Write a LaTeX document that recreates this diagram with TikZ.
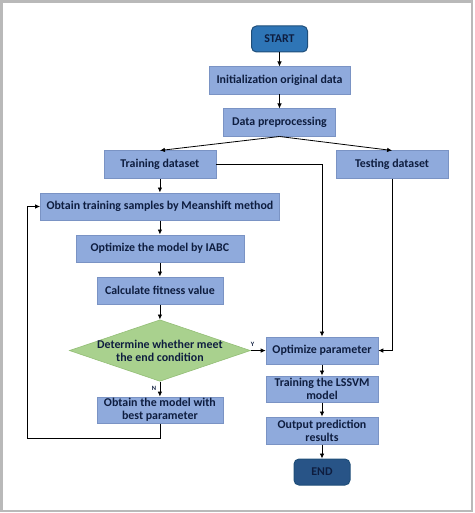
\documentclass[tikz,border=0pt]{standalone}
\usepackage{fontspec}
\setmainfont{Carlito}
\usetikzlibrary{arrows.meta,positioning,shapes.geometric}

\definecolor{boxblue}{HTML}{8FAADC}
\definecolor{boxline}{HTML}{7A93C4}
\definecolor{startblue}{HTML}{2E75B6}
\definecolor{endblue}{HTML}{285487}
\definecolor{darkline}{HTML}{1F4E79}
\definecolor{condgreen}{HTML}{A9D18E}
\definecolor{condline}{HTML}{93BE76}
\definecolor{navytext}{HTML}{0E1D3F}

\begin{document}
\begin{tikzpicture}[>={Latex[length=5pt,width=4.5pt]},
  font=\fontsize{11.9}{13}\selectfont\bfseries,
  box/.style={draw=boxline, fill=boxblue, line width=0.6pt, text=navytext, minimum height=27.4pt, align=center, inner xsep=1pt, inner ysep=0.5pt},
  term/.style={draw=darkline, rounded corners=5pt, line width=1pt, text=navytext, minimum width=56pt, minimum height=26pt},
  decision/.style={diamond, aspect=2.92, draw=condline, fill=condgreen, line width=0.6pt, text=navytext, align=center,
    inner xsep=-12pt, inner ysep=0pt, minimum width=181pt, minimum height=61.5pt},
  flow/.style={->, line width=0.8pt},
  tag/.style={font=\fontsize{6.5}{7}\selectfont\bfseries, text=navytext}]
  \useasboundingbox (0pt,0pt) rectangle (474pt,-513pt);
  \draw[gray!55, line width=2.5pt] (1.5pt,-1.5pt) rectangle (472pt,-511pt);

  % top of the chart
  \node[term, fill=startblue] (start) at (279.5pt,-39pt) {START};
  \node[box, minimum width=141pt, below=14pt of start] (init) {Initialization original data};
  \node[box, minimum width=112pt, below=14pt of init] (prep) {Data preprocessing};
  \node[box, minimum width=112pt, below left=14pt and 7pt of prep] (train) {Training dataset};
  \node[box, minimum width=112pt, below right=14pt and 0pt of prep] (test) {Testing dataset};

  % left column (IABC search)
  \node[box, minimum width=239pt, below=14pt of train] (samples) {Obtain training samples by Meanshift method};
  \node[box, minimum width=168pt, below=14pt of samples] (iabc) {Optimize the model by IABC};
  \node[box, minimum width=126pt, below=14pt of iabc] (fit) {Calculate fitness value};
  \node[decision, below=15pt of fit] (check) {Determine whether meet\\the end condition};
  \node[box, minimum width=126pt, minimum height=26.4pt, below=15pt of check] (best) {Obtain the model with\\best parameter};

  % right column (LSSVM)
  \node[box, minimum width=112pt, right=15pt of check] (param) {Optimize parameter};
  \node[box, minimum width=112pt, minimum height=26.4pt, below=11pt of param] (lssvm) {Training the LSSVM\\model};
  \node[box, minimum width=112pt, below=14pt of lssvm] (output) {Output prediction\\results};
  \node[term, fill=endblue, below=14pt of output] (stop) {END};

  % arrows
  \draw[flow] (start) -- (init);
  \draw[flow] (init) -- (prep);
  \draw[flow] (prep.south) -- (train.north);
  \draw[flow] (prep.south) -- (test.north);
  \draw[flow] (train) -- (samples);
  \draw[flow] (samples) -- (iabc);
  \draw[flow] (iabc) -- (fit);
  \draw[flow] (fit) -- (check);
  \draw[flow] (check) -- node[tag, pos=0.12, above] {Y} (param);
  \draw[flow] (check) -- node[tag, left, pos=0.45] {N} (best);
  \draw[flow] (best.south) |- ++(-133pt,-15pt) |- (samples.west);
  \draw[flow] (train.east) -| (param.north);
  \draw[flow] (test.south) |- (param.east);
  \draw[flow] (param) -- (lssvm);
  \draw[flow] (lssvm) -- (output);
  \draw[flow] (output) -- (stop);
\end{tikzpicture}
\end{document}
